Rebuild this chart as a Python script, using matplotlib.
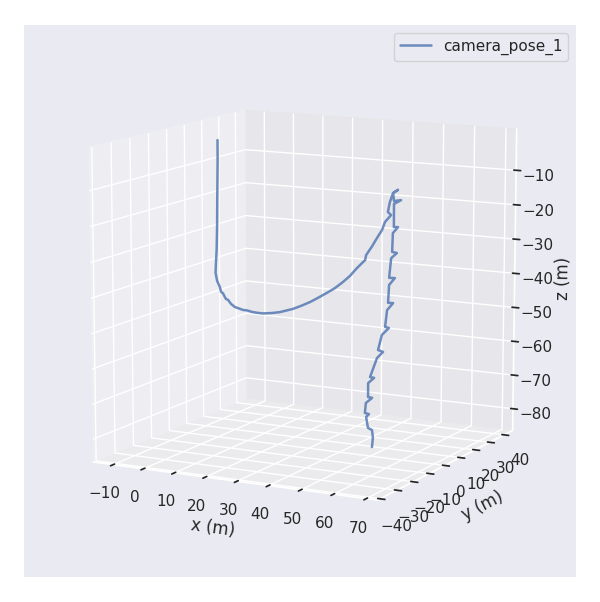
import numpy as np
import matplotlib
matplotlib.use("Agg")
import matplotlib.pyplot as plt
import seaborn as sns

sns.set_theme()

x_m = [-0.8,-0.8,-0.9,-1,-1.1,-1.3,-1.6,-1.7,-1.2,-0.3,0.1,0.7,1.7,2.4,3.4,4.7,5.7,7.4,8.7,10.4,12.3,14,17,19.6,21.5,23.8,26.4,29.4,31.9,34.8,37.4,40,42.2,44.4,47,47.3,49.2,50.7,52.3,53.2,55.1,54.1,54.7,55.7,57.2,55.7,56,58.2,56,56,56,57.3,55.7,55.5,57,55.2,54.6,56.4,54.6,54.3,55.9,54,53.4,54.6,52.4,51.2,52.8,50.9,48.7,50,48.1,48.1,49.4,47.4,47.1,48.4,47.5,48.1,49.4,49.7,49.4]
z_m = [-0.5,-6.2,-12,-17.7,-25,-32.2,-36.6,-38.9,-41.2,-42.9,-44.3,-44.6,-46.2,-46.4,-47.5,-48.3,-48.5,-48.9,-48.9,-49.2,-49.3,-49.3,-48.9,-48.4,-47.8,-47.1,-46,-44.6,-43.2,-41.5,-39.9,-37.9,-36,-33.6,-31.1,-29.7,-27,-24.6,-22.2,-19.9,-17.8,-17,-14.2,-11.6,-10.6,-11.6,-13.8,-13.4,-14.6,-17.7,-21.1,-21,-22.8,-28.1,-28.3,-29.9,-35.5,-35.4,-37.5,-42.6,-42.5,-44.7,-49.5,-49.7,-51.9,-56.3,-56.7,-58.6,-64.3,-64.4,-66.1,-70.1,-70.2,-71.9,-74.8,-75,-75.9,-79,-79.5,-81.7,-84.4]
y_m = [2.0] * len(x_m)
z_ticks = [-80, -70, -60, -50, -40, -30, -20, -10]

fig = plt.figure(figsize=(6, 6.02), dpi=100)
fig.patch.set_facecolor('white')
ax = fig.add_axes([0.04, 0.04, 0.92, 0.92], projection='3d')
ax.set_xlabel('x (m)')
ax.set_ylabel('y (m)')
ax.set_zlabel('z (m)')
ax.set_xlim(-16.6, 73.4)
ax.set_ylim(-41.5, 46)
ax.set_zlim(-86.5, 1.9)
ax.set_zticks(z_ticks)
ax.set_box_aspect((1, 1, 1), zoom=0.955)
ax.view_init(elev=11, azim=-62.3)
ax.plot(x_m, y_m, z_m, alpha=0.8, linewidth=1.8, label='camera_pose_1')
ax.legend()
fig.savefig('out.png', dpi=100)
